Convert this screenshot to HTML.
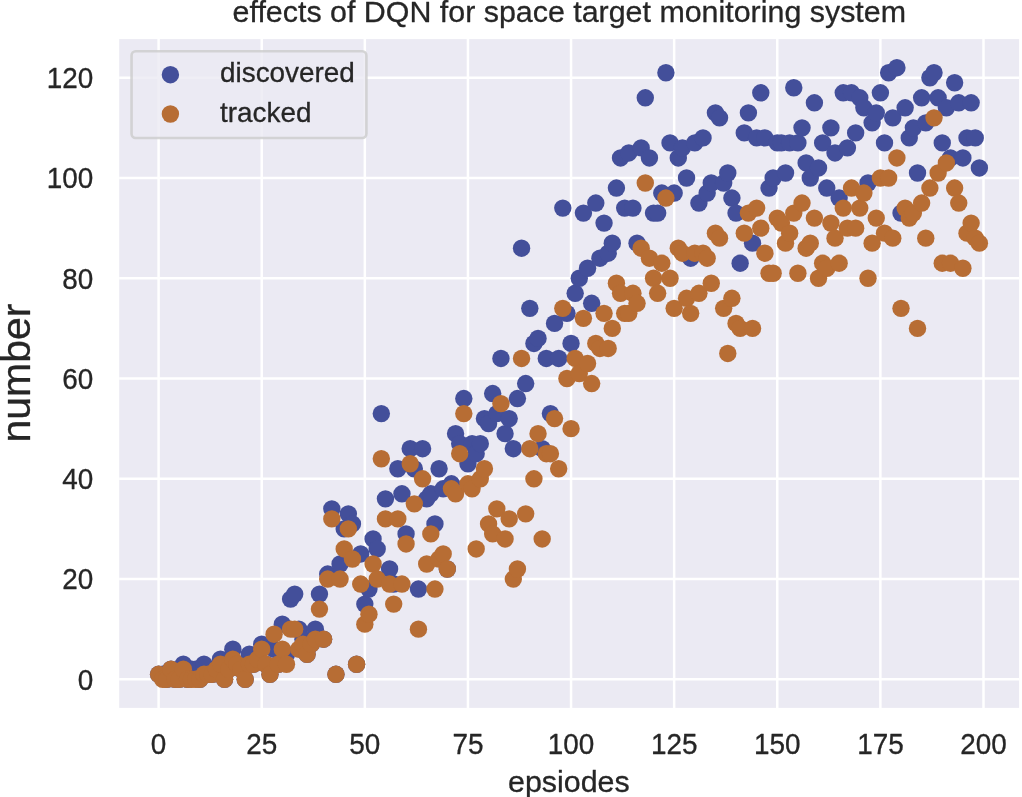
<!DOCTYPE html>
<html lang="en"><head><meta charset="utf-8"><title>effects of DQN for space target monitoring system</title>
<style>html,body{margin:0;padding:0;background:#fff}body{width:1022px;height:797px;overflow:hidden}svg{display:block}text{font-family:"Liberation Sans", Arial, sans-serif;fill:#262626;stroke:#262626;stroke-width:0.3px;stroke-linejoin:round}</style></head><body>
<svg width="1022" height="797" viewBox="0 0 1022 797">
<rect x="0" y="0" width="1022" height="797" fill="#ffffff"/>
<rect x="119.2" y="39.1" width="899.9" height="668.8" fill="#ebeaf3"/>
<g stroke="#ffffff" stroke-width="2.5" stroke-linecap="butt">
<line x1="158.60" y1="39.1" x2="158.60" y2="707.9"/>
<line x1="261.71" y1="39.1" x2="261.71" y2="707.9"/>
<line x1="364.83" y1="39.1" x2="364.83" y2="707.9"/>
<line x1="467.94" y1="39.1" x2="467.94" y2="707.9"/>
<line x1="571.05" y1="39.1" x2="571.05" y2="707.9"/>
<line x1="674.16" y1="39.1" x2="674.16" y2="707.9"/>
<line x1="777.28" y1="39.1" x2="777.28" y2="707.9"/>
<line x1="880.39" y1="39.1" x2="880.39" y2="707.9"/>
<line x1="983.50" y1="39.1" x2="983.50" y2="707.9"/>
<line x1="119.2" y1="679.30" x2="1019.0" y2="679.30"/>
<line x1="119.2" y1="579.04" x2="1019.0" y2="579.04"/>
<line x1="119.2" y1="478.78" x2="1019.0" y2="478.78"/>
<line x1="119.2" y1="378.52" x2="1019.0" y2="378.52"/>
<line x1="119.2" y1="278.26" x2="1019.0" y2="278.26"/>
<line x1="119.2" y1="178.00" x2="1019.0" y2="178.00"/>
<line x1="119.2" y1="77.74" x2="1019.0" y2="77.74"/>
</g>
<g fill="#434f9a">
<circle cx="158.60" cy="674.29" r="8.7"/>
<circle cx="162.72" cy="674.29" r="8.7"/>
<circle cx="166.85" cy="679.30" r="8.7"/>
<circle cx="170.97" cy="669.27" r="8.7"/>
<circle cx="175.10" cy="679.30" r="8.7"/>
<circle cx="179.22" cy="679.30" r="8.7"/>
<circle cx="183.35" cy="664.26" r="8.7"/>
<circle cx="187.47" cy="679.30" r="8.7"/>
<circle cx="191.60" cy="669.27" r="8.7"/>
<circle cx="195.72" cy="669.27" r="8.7"/>
<circle cx="199.84" cy="679.30" r="8.7"/>
<circle cx="203.97" cy="664.26" r="8.7"/>
<circle cx="208.09" cy="674.29" r="8.7"/>
<circle cx="212.22" cy="674.29" r="8.7"/>
<circle cx="216.34" cy="669.27" r="8.7"/>
<circle cx="220.47" cy="659.25" r="8.7"/>
<circle cx="224.59" cy="679.30" r="8.7"/>
<circle cx="228.72" cy="669.27" r="8.7"/>
<circle cx="232.84" cy="649.22" r="8.7"/>
<circle cx="236.97" cy="664.26" r="8.7"/>
<circle cx="241.09" cy="669.27" r="8.7"/>
<circle cx="245.21" cy="679.30" r="8.7"/>
<circle cx="249.34" cy="654.23" r="8.7"/>
<circle cx="253.46" cy="664.26" r="8.7"/>
<circle cx="257.59" cy="659.25" r="8.7"/>
<circle cx="261.71" cy="644.21" r="8.7"/>
<circle cx="265.84" cy="664.26" r="8.7"/>
<circle cx="269.96" cy="674.29" r="8.7"/>
<circle cx="274.09" cy="649.22" r="8.7"/>
<circle cx="278.21" cy="664.26" r="8.7"/>
<circle cx="282.34" cy="624.16" r="8.7"/>
<circle cx="286.46" cy="654.23" r="8.7"/>
<circle cx="290.58" cy="599.09" r="8.7"/>
<circle cx="294.71" cy="594.08" r="8.7"/>
<circle cx="298.83" cy="629.17" r="8.7"/>
<circle cx="302.96" cy="639.20" r="8.7"/>
<circle cx="307.08" cy="654.23" r="8.7"/>
<circle cx="311.21" cy="644.21" r="8.7"/>
<circle cx="315.33" cy="629.17" r="8.7"/>
<circle cx="319.46" cy="594.08" r="8.7"/>
<circle cx="323.58" cy="639.20" r="8.7"/>
<circle cx="327.70" cy="574.03" r="8.7"/>
<circle cx="331.83" cy="508.86" r="8.7"/>
<circle cx="335.95" cy="674.29" r="8.7"/>
<circle cx="340.08" cy="564.00" r="8.7"/>
<circle cx="344.20" cy="528.91" r="8.7"/>
<circle cx="348.33" cy="513.87" r="8.7"/>
<circle cx="352.45" cy="523.90" r="8.7"/>
<circle cx="356.58" cy="664.26" r="8.7"/>
<circle cx="360.70" cy="553.97" r="8.7"/>
<circle cx="364.83" cy="604.11" r="8.7"/>
<circle cx="368.95" cy="589.07" r="8.7"/>
<circle cx="373.07" cy="538.94" r="8.7"/>
<circle cx="377.20" cy="548.96" r="8.7"/>
<circle cx="381.32" cy="413.61" r="8.7"/>
<circle cx="385.45" cy="498.83" r="8.7"/>
<circle cx="389.57" cy="569.01" r="8.7"/>
<circle cx="393.70" cy="584.05" r="8.7"/>
<circle cx="397.82" cy="468.75" r="8.7"/>
<circle cx="401.95" cy="493.82" r="8.7"/>
<circle cx="406.07" cy="533.92" r="8.7"/>
<circle cx="410.19" cy="448.70" r="8.7"/>
<circle cx="414.32" cy="468.75" r="8.7"/>
<circle cx="418.44" cy="589.07" r="8.7"/>
<circle cx="422.57" cy="448.70" r="8.7"/>
<circle cx="426.69" cy="498.83" r="8.7"/>
<circle cx="430.82" cy="493.82" r="8.7"/>
<circle cx="434.94" cy="523.90" r="8.7"/>
<circle cx="439.07" cy="468.75" r="8.7"/>
<circle cx="443.19" cy="488.81" r="8.7"/>
<circle cx="447.32" cy="569.01" r="8.7"/>
<circle cx="451.44" cy="483.79" r="8.7"/>
<circle cx="455.56" cy="433.66" r="8.7"/>
<circle cx="459.69" cy="443.69" r="8.7"/>
<circle cx="463.81" cy="398.57" r="8.7"/>
<circle cx="467.94" cy="463.74" r="8.7"/>
<circle cx="472.06" cy="443.69" r="8.7"/>
<circle cx="476.19" cy="453.71" r="8.7"/>
<circle cx="480.31" cy="443.69" r="8.7"/>
<circle cx="484.44" cy="418.62" r="8.7"/>
<circle cx="488.56" cy="423.64" r="8.7"/>
<circle cx="492.68" cy="393.56" r="8.7"/>
<circle cx="496.81" cy="413.61" r="8.7"/>
<circle cx="500.93" cy="358.47" r="8.7"/>
<circle cx="505.06" cy="433.66" r="8.7"/>
<circle cx="509.18" cy="418.62" r="8.7"/>
<circle cx="513.31" cy="448.70" r="8.7"/>
<circle cx="517.43" cy="398.57" r="8.7"/>
<circle cx="521.56" cy="248.18" r="8.7"/>
<circle cx="525.68" cy="383.53" r="8.7"/>
<circle cx="529.81" cy="308.34" r="8.7"/>
<circle cx="533.93" cy="343.43" r="8.7"/>
<circle cx="538.05" cy="338.42" r="8.7"/>
<circle cx="542.18" cy="448.70" r="8.7"/>
<circle cx="546.30" cy="358.47" r="8.7"/>
<circle cx="550.43" cy="413.61" r="8.7"/>
<circle cx="554.55" cy="323.38" r="8.7"/>
<circle cx="558.68" cy="358.47" r="8.7"/>
<circle cx="562.80" cy="208.08" r="8.7"/>
<circle cx="566.93" cy="313.35" r="8.7"/>
<circle cx="571.05" cy="343.43" r="8.7"/>
<circle cx="575.17" cy="293.30" r="8.7"/>
<circle cx="579.30" cy="278.26" r="8.7"/>
<circle cx="583.42" cy="213.09" r="8.7"/>
<circle cx="587.55" cy="268.23" r="8.7"/>
<circle cx="591.67" cy="303.32" r="8.7"/>
<circle cx="595.80" cy="203.06" r="8.7"/>
<circle cx="599.92" cy="258.21" r="8.7"/>
<circle cx="604.05" cy="223.12" r="8.7"/>
<circle cx="608.17" cy="253.19" r="8.7"/>
<circle cx="612.30" cy="243.17" r="8.7"/>
<circle cx="616.42" cy="188.03" r="8.7"/>
<circle cx="620.54" cy="157.95" r="8.7"/>
<circle cx="624.67" cy="208.08" r="8.7"/>
<circle cx="628.79" cy="152.93" r="8.7"/>
<circle cx="632.92" cy="208.08" r="8.7"/>
<circle cx="637.04" cy="243.17" r="8.7"/>
<circle cx="641.17" cy="147.92" r="8.7"/>
<circle cx="645.29" cy="97.79" r="8.7"/>
<circle cx="649.42" cy="157.95" r="8.7"/>
<circle cx="653.54" cy="213.09" r="8.7"/>
<circle cx="657.66" cy="213.09" r="8.7"/>
<circle cx="661.79" cy="193.04" r="8.7"/>
<circle cx="665.91" cy="72.73" r="8.7"/>
<circle cx="670.04" cy="142.91" r="8.7"/>
<circle cx="674.16" cy="193.04" r="8.7"/>
<circle cx="678.29" cy="157.95" r="8.7"/>
<circle cx="682.41" cy="147.92" r="8.7"/>
<circle cx="686.54" cy="178.00" r="8.7"/>
<circle cx="690.66" cy="258.21" r="8.7"/>
<circle cx="694.79" cy="142.91" r="8.7"/>
<circle cx="698.91" cy="203.06" r="8.7"/>
<circle cx="703.03" cy="137.90" r="8.7"/>
<circle cx="707.16" cy="193.04" r="8.7"/>
<circle cx="711.28" cy="183.01" r="8.7"/>
<circle cx="715.41" cy="112.83" r="8.7"/>
<circle cx="719.53" cy="117.84" r="8.7"/>
<circle cx="723.66" cy="183.01" r="8.7"/>
<circle cx="727.78" cy="172.99" r="8.7"/>
<circle cx="731.91" cy="198.05" r="8.7"/>
<circle cx="736.03" cy="213.09" r="8.7"/>
<circle cx="740.15" cy="263.22" r="8.7"/>
<circle cx="744.28" cy="132.88" r="8.7"/>
<circle cx="748.40" cy="112.83" r="8.7"/>
<circle cx="752.53" cy="243.17" r="8.7"/>
<circle cx="756.65" cy="137.90" r="8.7"/>
<circle cx="760.78" cy="92.78" r="8.7"/>
<circle cx="764.90" cy="137.90" r="8.7"/>
<circle cx="769.03" cy="188.03" r="8.7"/>
<circle cx="773.15" cy="178.00" r="8.7"/>
<circle cx="777.28" cy="142.91" r="8.7"/>
<circle cx="781.40" cy="142.91" r="8.7"/>
<circle cx="785.52" cy="172.99" r="8.7"/>
<circle cx="789.65" cy="142.91" r="8.7"/>
<circle cx="793.77" cy="87.77" r="8.7"/>
<circle cx="797.90" cy="142.91" r="8.7"/>
<circle cx="802.02" cy="127.87" r="8.7"/>
<circle cx="806.15" cy="162.96" r="8.7"/>
<circle cx="810.27" cy="178.00" r="8.7"/>
<circle cx="814.40" cy="102.80" r="8.7"/>
<circle cx="818.52" cy="167.97" r="8.7"/>
<circle cx="822.64" cy="142.91" r="8.7"/>
<circle cx="826.77" cy="188.03" r="8.7"/>
<circle cx="830.89" cy="127.87" r="8.7"/>
<circle cx="835.02" cy="152.93" r="8.7"/>
<circle cx="839.14" cy="198.05" r="8.7"/>
<circle cx="843.27" cy="92.78" r="8.7"/>
<circle cx="847.39" cy="147.92" r="8.7"/>
<circle cx="851.52" cy="92.78" r="8.7"/>
<circle cx="855.64" cy="132.88" r="8.7"/>
<circle cx="859.77" cy="97.79" r="8.7"/>
<circle cx="863.89" cy="107.82" r="8.7"/>
<circle cx="868.01" cy="183.01" r="8.7"/>
<circle cx="872.14" cy="122.86" r="8.7"/>
<circle cx="876.26" cy="112.83" r="8.7"/>
<circle cx="880.39" cy="92.78" r="8.7"/>
<circle cx="884.51" cy="142.91" r="8.7"/>
<circle cx="888.64" cy="72.73" r="8.7"/>
<circle cx="892.76" cy="117.84" r="8.7"/>
<circle cx="896.89" cy="67.71" r="8.7"/>
<circle cx="901.01" cy="213.09" r="8.7"/>
<circle cx="905.13" cy="107.82" r="8.7"/>
<circle cx="909.26" cy="137.90" r="8.7"/>
<circle cx="913.38" cy="127.87" r="8.7"/>
<circle cx="917.51" cy="172.99" r="8.7"/>
<circle cx="921.63" cy="97.79" r="8.7"/>
<circle cx="925.76" cy="122.86" r="8.7"/>
<circle cx="929.88" cy="77.74" r="8.7"/>
<circle cx="934.01" cy="72.73" r="8.7"/>
<circle cx="938.13" cy="97.79" r="8.7"/>
<circle cx="942.26" cy="142.91" r="8.7"/>
<circle cx="946.38" cy="107.82" r="8.7"/>
<circle cx="950.50" cy="157.95" r="8.7"/>
<circle cx="954.63" cy="82.75" r="8.7"/>
<circle cx="958.75" cy="102.80" r="8.7"/>
<circle cx="962.88" cy="157.95" r="8.7"/>
<circle cx="967.00" cy="137.90" r="8.7"/>
<circle cx="971.13" cy="102.80" r="8.7"/>
<circle cx="975.25" cy="137.90" r="8.7"/>
<circle cx="979.38" cy="167.97" r="8.7"/>
</g>
<g fill="#b76d34">
<circle cx="158.60" cy="674.29" r="8.7"/>
<circle cx="162.72" cy="679.30" r="8.7"/>
<circle cx="166.85" cy="679.30" r="8.7"/>
<circle cx="170.97" cy="669.27" r="8.7"/>
<circle cx="175.10" cy="679.30" r="8.7"/>
<circle cx="179.22" cy="679.30" r="8.7"/>
<circle cx="183.35" cy="669.27" r="8.7"/>
<circle cx="187.47" cy="679.30" r="8.7"/>
<circle cx="191.60" cy="679.30" r="8.7"/>
<circle cx="195.72" cy="679.30" r="8.7"/>
<circle cx="199.84" cy="679.30" r="8.7"/>
<circle cx="203.97" cy="674.29" r="8.7"/>
<circle cx="208.09" cy="674.29" r="8.7"/>
<circle cx="212.22" cy="674.29" r="8.7"/>
<circle cx="216.34" cy="669.27" r="8.7"/>
<circle cx="220.47" cy="664.26" r="8.7"/>
<circle cx="224.59" cy="679.30" r="8.7"/>
<circle cx="228.72" cy="669.27" r="8.7"/>
<circle cx="232.84" cy="659.25" r="8.7"/>
<circle cx="236.97" cy="664.26" r="8.7"/>
<circle cx="241.09" cy="669.27" r="8.7"/>
<circle cx="245.21" cy="679.30" r="8.7"/>
<circle cx="249.34" cy="664.26" r="8.7"/>
<circle cx="253.46" cy="664.26" r="8.7"/>
<circle cx="257.59" cy="659.25" r="8.7"/>
<circle cx="261.71" cy="649.22" r="8.7"/>
<circle cx="265.84" cy="664.26" r="8.7"/>
<circle cx="269.96" cy="674.29" r="8.7"/>
<circle cx="274.09" cy="634.18" r="8.7"/>
<circle cx="278.21" cy="664.26" r="8.7"/>
<circle cx="282.34" cy="649.22" r="8.7"/>
<circle cx="286.46" cy="664.26" r="8.7"/>
<circle cx="290.58" cy="629.17" r="8.7"/>
<circle cx="294.71" cy="629.17" r="8.7"/>
<circle cx="298.83" cy="649.22" r="8.7"/>
<circle cx="302.96" cy="644.21" r="8.7"/>
<circle cx="307.08" cy="654.23" r="8.7"/>
<circle cx="311.21" cy="644.21" r="8.7"/>
<circle cx="315.33" cy="639.20" r="8.7"/>
<circle cx="319.46" cy="609.12" r="8.7"/>
<circle cx="323.58" cy="639.20" r="8.7"/>
<circle cx="327.70" cy="579.04" r="8.7"/>
<circle cx="331.83" cy="518.88" r="8.7"/>
<circle cx="335.95" cy="674.29" r="8.7"/>
<circle cx="340.08" cy="579.04" r="8.7"/>
<circle cx="344.20" cy="548.96" r="8.7"/>
<circle cx="348.33" cy="528.91" r="8.7"/>
<circle cx="352.45" cy="558.99" r="8.7"/>
<circle cx="356.58" cy="664.26" r="8.7"/>
<circle cx="360.70" cy="584.05" r="8.7"/>
<circle cx="364.83" cy="624.16" r="8.7"/>
<circle cx="368.95" cy="614.13" r="8.7"/>
<circle cx="373.07" cy="564.00" r="8.7"/>
<circle cx="377.20" cy="579.04" r="8.7"/>
<circle cx="381.32" cy="458.73" r="8.7"/>
<circle cx="385.45" cy="518.88" r="8.7"/>
<circle cx="389.57" cy="584.05" r="8.7"/>
<circle cx="393.70" cy="604.11" r="8.7"/>
<circle cx="397.82" cy="518.88" r="8.7"/>
<circle cx="401.95" cy="584.05" r="8.7"/>
<circle cx="406.07" cy="543.95" r="8.7"/>
<circle cx="410.19" cy="463.74" r="8.7"/>
<circle cx="414.32" cy="503.84" r="8.7"/>
<circle cx="418.44" cy="629.17" r="8.7"/>
<circle cx="422.57" cy="478.78" r="8.7"/>
<circle cx="426.69" cy="564.00" r="8.7"/>
<circle cx="430.82" cy="533.92" r="8.7"/>
<circle cx="434.94" cy="589.07" r="8.7"/>
<circle cx="439.07" cy="558.99" r="8.7"/>
<circle cx="443.19" cy="553.97" r="8.7"/>
<circle cx="447.32" cy="569.01" r="8.7"/>
<circle cx="451.44" cy="488.81" r="8.7"/>
<circle cx="455.56" cy="493.82" r="8.7"/>
<circle cx="459.69" cy="453.71" r="8.7"/>
<circle cx="463.81" cy="413.61" r="8.7"/>
<circle cx="467.94" cy="483.79" r="8.7"/>
<circle cx="472.06" cy="488.81" r="8.7"/>
<circle cx="476.19" cy="548.96" r="8.7"/>
<circle cx="480.31" cy="478.78" r="8.7"/>
<circle cx="484.44" cy="468.75" r="8.7"/>
<circle cx="488.56" cy="523.90" r="8.7"/>
<circle cx="492.68" cy="533.92" r="8.7"/>
<circle cx="496.81" cy="508.86" r="8.7"/>
<circle cx="500.93" cy="403.58" r="8.7"/>
<circle cx="505.06" cy="538.94" r="8.7"/>
<circle cx="509.18" cy="518.88" r="8.7"/>
<circle cx="513.31" cy="579.04" r="8.7"/>
<circle cx="517.43" cy="569.01" r="8.7"/>
<circle cx="521.56" cy="358.47" r="8.7"/>
<circle cx="525.68" cy="513.87" r="8.7"/>
<circle cx="529.81" cy="448.70" r="8.7"/>
<circle cx="533.93" cy="478.78" r="8.7"/>
<circle cx="538.05" cy="433.66" r="8.7"/>
<circle cx="542.18" cy="538.94" r="8.7"/>
<circle cx="546.30" cy="453.71" r="8.7"/>
<circle cx="550.43" cy="453.71" r="8.7"/>
<circle cx="554.55" cy="418.62" r="8.7"/>
<circle cx="558.68" cy="468.75" r="8.7"/>
<circle cx="562.80" cy="308.34" r="8.7"/>
<circle cx="566.93" cy="378.52" r="8.7"/>
<circle cx="571.05" cy="428.65" r="8.7"/>
<circle cx="575.17" cy="358.47" r="8.7"/>
<circle cx="579.30" cy="373.51" r="8.7"/>
<circle cx="583.42" cy="318.36" r="8.7"/>
<circle cx="587.55" cy="363.48" r="8.7"/>
<circle cx="591.67" cy="383.53" r="8.7"/>
<circle cx="595.80" cy="343.43" r="8.7"/>
<circle cx="599.92" cy="348.44" r="8.7"/>
<circle cx="604.05" cy="313.35" r="8.7"/>
<circle cx="608.17" cy="348.44" r="8.7"/>
<circle cx="612.30" cy="328.39" r="8.7"/>
<circle cx="616.42" cy="283.27" r="8.7"/>
<circle cx="620.54" cy="293.30" r="8.7"/>
<circle cx="624.67" cy="313.35" r="8.7"/>
<circle cx="628.79" cy="313.35" r="8.7"/>
<circle cx="632.92" cy="293.30" r="8.7"/>
<circle cx="637.04" cy="303.32" r="8.7"/>
<circle cx="641.17" cy="248.18" r="8.7"/>
<circle cx="645.29" cy="183.01" r="8.7"/>
<circle cx="649.42" cy="258.21" r="8.7"/>
<circle cx="653.54" cy="278.26" r="8.7"/>
<circle cx="657.66" cy="293.30" r="8.7"/>
<circle cx="661.79" cy="263.22" r="8.7"/>
<circle cx="665.91" cy="198.05" r="8.7"/>
<circle cx="670.04" cy="278.26" r="8.7"/>
<circle cx="674.16" cy="308.34" r="8.7"/>
<circle cx="678.29" cy="248.18" r="8.7"/>
<circle cx="682.41" cy="253.19" r="8.7"/>
<circle cx="686.54" cy="298.31" r="8.7"/>
<circle cx="690.66" cy="313.35" r="8.7"/>
<circle cx="694.79" cy="253.19" r="8.7"/>
<circle cx="698.91" cy="293.30" r="8.7"/>
<circle cx="703.03" cy="253.19" r="8.7"/>
<circle cx="707.16" cy="258.21" r="8.7"/>
<circle cx="711.28" cy="283.27" r="8.7"/>
<circle cx="715.41" cy="233.14" r="8.7"/>
<circle cx="719.53" cy="238.16" r="8.7"/>
<circle cx="723.66" cy="308.34" r="8.7"/>
<circle cx="727.78" cy="353.45" r="8.7"/>
<circle cx="731.91" cy="298.31" r="8.7"/>
<circle cx="736.03" cy="323.38" r="8.7"/>
<circle cx="740.15" cy="328.39" r="8.7"/>
<circle cx="744.28" cy="233.14" r="8.7"/>
<circle cx="748.40" cy="213.09" r="8.7"/>
<circle cx="752.53" cy="328.39" r="8.7"/>
<circle cx="756.65" cy="208.08" r="8.7"/>
<circle cx="760.78" cy="228.13" r="8.7"/>
<circle cx="764.90" cy="253.19" r="8.7"/>
<circle cx="769.03" cy="273.25" r="8.7"/>
<circle cx="773.15" cy="273.25" r="8.7"/>
<circle cx="777.28" cy="218.10" r="8.7"/>
<circle cx="781.40" cy="223.12" r="8.7"/>
<circle cx="785.52" cy="243.17" r="8.7"/>
<circle cx="789.65" cy="233.14" r="8.7"/>
<circle cx="793.77" cy="213.09" r="8.7"/>
<circle cx="797.90" cy="273.25" r="8.7"/>
<circle cx="802.02" cy="203.06" r="8.7"/>
<circle cx="806.15" cy="248.18" r="8.7"/>
<circle cx="810.27" cy="243.17" r="8.7"/>
<circle cx="814.40" cy="218.10" r="8.7"/>
<circle cx="818.52" cy="278.26" r="8.7"/>
<circle cx="822.64" cy="263.22" r="8.7"/>
<circle cx="826.77" cy="268.23" r="8.7"/>
<circle cx="830.89" cy="223.12" r="8.7"/>
<circle cx="835.02" cy="238.16" r="8.7"/>
<circle cx="839.14" cy="263.22" r="8.7"/>
<circle cx="843.27" cy="208.08" r="8.7"/>
<circle cx="847.39" cy="228.13" r="8.7"/>
<circle cx="851.52" cy="188.03" r="8.7"/>
<circle cx="855.64" cy="228.13" r="8.7"/>
<circle cx="859.77" cy="208.08" r="8.7"/>
<circle cx="863.89" cy="193.04" r="8.7"/>
<circle cx="868.01" cy="278.26" r="8.7"/>
<circle cx="872.14" cy="243.17" r="8.7"/>
<circle cx="876.26" cy="218.10" r="8.7"/>
<circle cx="880.39" cy="178.00" r="8.7"/>
<circle cx="884.51" cy="233.14" r="8.7"/>
<circle cx="888.64" cy="178.00" r="8.7"/>
<circle cx="892.76" cy="238.16" r="8.7"/>
<circle cx="896.89" cy="157.95" r="8.7"/>
<circle cx="901.01" cy="308.34" r="8.7"/>
<circle cx="905.13" cy="208.08" r="8.7"/>
<circle cx="909.26" cy="218.10" r="8.7"/>
<circle cx="913.38" cy="213.09" r="8.7"/>
<circle cx="917.51" cy="328.39" r="8.7"/>
<circle cx="921.63" cy="203.06" r="8.7"/>
<circle cx="925.76" cy="238.16" r="8.7"/>
<circle cx="929.88" cy="188.03" r="8.7"/>
<circle cx="934.01" cy="117.84" r="8.7"/>
<circle cx="938.13" cy="172.99" r="8.7"/>
<circle cx="942.26" cy="263.22" r="8.7"/>
<circle cx="946.38" cy="162.96" r="8.7"/>
<circle cx="950.50" cy="263.22" r="8.7"/>
<circle cx="954.63" cy="188.03" r="8.7"/>
<circle cx="958.75" cy="203.06" r="8.7"/>
<circle cx="962.88" cy="268.23" r="8.7"/>
<circle cx="967.00" cy="233.14" r="8.7"/>
<circle cx="971.13" cy="223.12" r="8.7"/>
<circle cx="975.25" cy="238.16" r="8.7"/>
<circle cx="979.38" cy="243.17" r="8.7"/>
</g>
<rect x="131.55" y="51.2" width="234.85" height="86.8" rx="4.2" ry="4.2" fill="#ebeaf3" fill-opacity="0.8" stroke="#cccccc" stroke-opacity="0.8" stroke-width="2.6"/>
<circle cx="170.4" cy="74.7" r="8.7" fill="#434f9a"/>
<circle cx="170.4" cy="114.0" r="8.7" fill="#b76d34"/>
<text x="220" y="82.1" font-size="27.9">discovered</text>
<text x="220" y="121.6" font-size="27.9">tracked</text>
<g font-size="27.9" text-anchor="middle">
<text transform="translate(158.60,753.6) scale(1,1.045)">0</text>
<text transform="translate(261.71,753.6) scale(1,1.045)">25</text>
<text transform="translate(364.83,753.6) scale(1,1.045)">50</text>
<text transform="translate(467.94,753.6) scale(1,1.045)">75</text>
<text transform="translate(571.05,753.6) scale(1,1.045)">100</text>
<text transform="translate(674.16,753.6) scale(1,1.045)">125</text>
<text transform="translate(777.28,753.6) scale(1,1.045)">150</text>
<text transform="translate(880.39,753.6) scale(1,1.045)">175</text>
<text transform="translate(983.50,753.6) scale(1,1.045)">200</text>
</g>
<g font-size="27.9" text-anchor="end">
<text transform="translate(93.2,689.60) scale(1,1.045)">0</text>
<text transform="translate(93.2,589.34) scale(1,1.045)">20</text>
<text transform="translate(93.2,489.08) scale(1,1.045)">40</text>
<text transform="translate(93.2,388.82) scale(1,1.045)">60</text>
<text transform="translate(93.2,288.56) scale(1,1.045)">80</text>
<text transform="translate(93.2,188.30) scale(1,1.045)">100</text>
<text transform="translate(93.2,88.04) scale(1,1.045)">120</text>
</g>
<text x="569.3" y="21.8" font-size="30.4" text-anchor="middle">effects of DQN for space target monitoring system</text>
<text x="568.9" y="791.5" font-size="30.4" text-anchor="middle">epsiodes</text>
<text transform="translate(30.1,373) rotate(-90)" font-size="41" text-anchor="middle">number</text>
</svg></body></html>
